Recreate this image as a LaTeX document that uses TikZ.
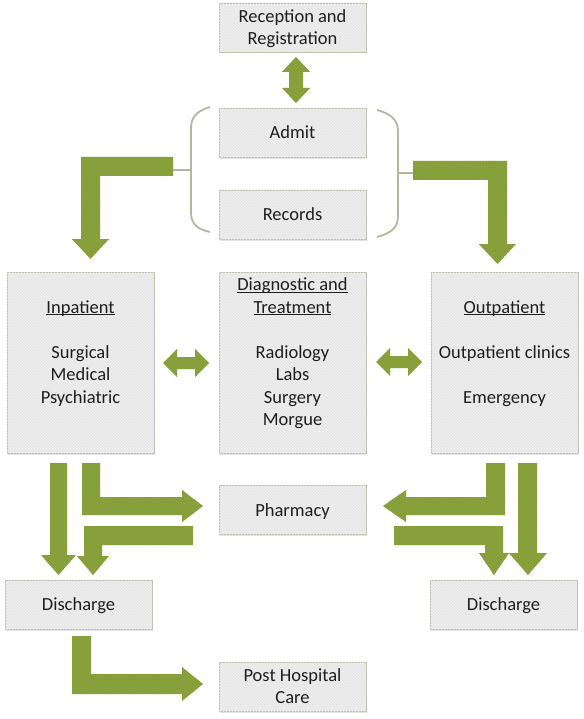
\documentclass[tikz,border=0pt]{standalone}
\usepackage{fontspec}
\setmainfont{Carlito}
\usetikzlibrary{patterns,shadows}
\definecolor{boxfill}{HTML}{EEEEEE}
\definecolor{boxline}{HTML}{BDC0AC}
\definecolor{hatchbox}{HTML}{E3E3E3}
\definecolor{agreen}{HTML}{8CA43E}
\definecolor{hatchgreen}{HTML}{809837}
\definecolor{brk}{HTML}{B3B79E}
\definecolor{txtc}{HTML}{1E1E1E}
\begin{document}
\begin{tikzpicture}[x=1pt,y=-1pt,
  box/.style={draw=boxline, line width=0.8pt, fill=boxfill,
    postaction={pattern=north west lines, pattern color=hatchbox},
    minimum width=147pt, minimum height=49pt, inner sep=0pt,
    drop shadow={shadow xshift=1pt, shadow yshift=-1.5pt, opacity=0.22},
    text=txtc, font=\fontsize{18.5}{22.5}\selectfont, text height=12pt, text depth=0pt},
  tall/.style={box, minimum height=181pt},
  lbl/.style={text=txtc, font=\fontsize{18.5}{22.5}\selectfont, align=center, inner sep=0pt},
  barrow/.style={fill=agreen, postaction={pattern=north west lines, pattern color=hatchgreen}},
  bracket/.style={draw=brk, line width=1.8pt}
]
\useasboundingbox (0,0) rectangle (583,719);

% boxes
\node[box] (rec) at (292.5,27.5) {};
\node[lbl] (recT) at (292.5,29) {Reception and\strut\\Registration\strut};
\node[box] (admit) at (292.5,133) {Admit};
\node[box] (records) at (292.5,214.5) {Records};
\node[tall] (inpat) at (80.5,362.5) {};
\node[tall] (diag) at (292.5,362.5) {};
\node[tall] (outpat) at (504.5,362.5) {};
\node[lbl] (inpatT) at (80.5,353.5) {\underline{\smash{Inpatient}}\strut\\ \strut\\Surgical\strut\\Medical\strut\\Psychiatric\strut};
\node[lbl] (diagT) at (292.5,353.5) {\underline{\smash{Diagnostic and}}\strut\\\underline{\smash{Treatment}}\strut\\ \strut\\Radiology\strut\\Labs\strut\\Surgery\strut\\Morgue\strut};
\node[lbl] (outpatT) at (504.5,353.5) {\underline{\smash{Outpatient}}\strut\\ \strut\\Outpatient clinics\strut\\ \strut\\Emergency\strut};
\node[box] (pharm) at (292.5,510) {Pharmacy};
\node[box] (disL) at (78.5,604.5) {Discharge};
\node[box] (disR) at (503.5,604.5) {Discharge};
\node[box] (post) at (292.5,686.5) {};
\node[lbl] (postT) at (292.5,688) {Post Hospital\strut\\Care\strut};

% brackets
\draw[bracket] (210,107) .. controls (196,111) and (191,118) .. (191,128) -- (191,212) .. controls (191,223) and (196,229) .. (210,232);
\draw[bracket] (191,170) -- (173,170);
\draw[bracket] (377,110) .. controls (392,114) and (398,121) .. (398,131) -- (398,216) .. controls (398,227) and (392,233) .. (377,237);
\draw[bracket] (398,173) -- (413,173);

% double arrows
\fill[barrow] (296,57) -- (310,72) -- (303,72) -- (303,88) -- (310,88) -- (296,103) -- (282,88) -- (289,88) -- (289,72) -- (282,72) -- cycle;
\fill[barrow] (163,363) -- (177,349) -- (177,357) -- (195,357) -- (195,349) -- (209,363) -- (195,377) -- (195,369) -- (177,369) -- (177,377) -- cycle;
\fill[barrow] (376,362) -- (390,348) -- (390,356) -- (408,356) -- (408,348) -- (422,362) -- (408,376) -- (408,368) -- (390,368) -- (390,376) -- cycle;

% bent arrows top
\fill[barrow] (173,157) -- (81,157) -- (81,239) -- (72,239) -- (90.5,259) -- (109,239) -- (100,239) -- (100,176) -- (173,176) -- cycle;
\fill[barrow] (413,161) -- (507,161) -- (507,244) -- (516,244) -- (497.5,264) -- (479,244) -- (488,244) -- (488,180) -- (413,180) -- cycle;

% bottom left
\fill[barrow] (50,463) -- (67,463) -- (67,555) -- (76,555) -- (58.5,575) -- (41,555) -- (50,555) -- cycle;
\fill[barrow] (82,463) -- (100,463) -- (100,497) -- (182,497) -- (182,490) -- (203,506) -- (182,522) -- (182,515) -- (82,515) -- cycle;
\fill[barrow] (193,526) -- (84,526) -- (84,556) -- (77,556) -- (93,575) -- (109,556) -- (102,556) -- (102,545) -- (193,545) -- cycle;
\fill[barrow] (72,636) -- (91,636) -- (91,674) -- (182,674) -- (182,667) -- (203,684) -- (182,701) -- (182,694) -- (72,694) -- cycle;

% bottom right
\fill[barrow] (486,463) -- (505,463) -- (505,515) -- (406,515) -- (406,522) -- (383,506) -- (406,490) -- (406,497) -- (486,497) -- cycle;
\fill[barrow] (518,463) -- (537,463) -- (537,553) -- (547,553) -- (528,575) -- (509,553) -- (518,553) -- cycle;
\fill[barrow] (394,526) -- (503,526) -- (503,553) -- (509,553) -- (494,575) -- (479,553) -- (485,553) -- (485,545) -- (394,545) -- cycle;
\end{tikzpicture}
\end{document}
